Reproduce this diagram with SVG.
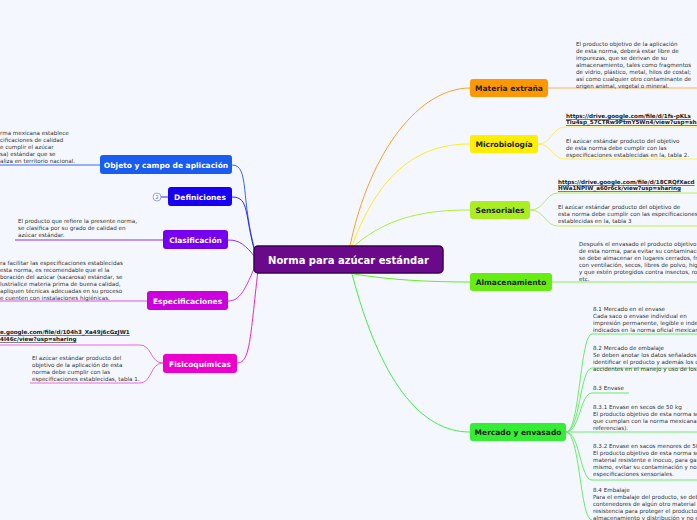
<svg xmlns="http://www.w3.org/2000/svg" width="697" height="520" viewBox="0 0 697 520">
<style>
.n{font-family:"DejaVu Sans",sans-serif;font-size:7.5px;font-weight:bold;fill:#fff;text-anchor:middle}
.t{font-family:"DejaVu Sans",sans-serif;font-size:5.6px;fill:#333}
.l{font-family:"DejaVu Sans",sans-serif;font-size:5.6px;fill:#222;font-weight:bold;text-decoration:underline}
.c{fill:none;stroke-width:1}
</style>
<rect width="697" height="520" fill="#f4f7fd"/>
<g id="connectors">
<path class="c" stroke="#ff9f2a" d="M350,246 C370,150 420,88 470,88"/>
<path class="c" stroke="#ffee22" d="M352,246 C380,170 420,144 470,144"/>
<path class="c" stroke="#b0ee33" d="M354,246 C390,215 430,210 470,210"/>
<path class="c" stroke="#66ee22" d="M354,274 C390,280 430,282 470,282"/>
<path class="c" stroke="#44ee44" d="M352,274 C380,380 420,432 470,432"/>
<path class="c" stroke="#3366ff" d="M256,254 C240,200 250,165 232,165"/>
<path class="c" stroke="#3322ee" d="M256,256 C244,215 250,197 232,197"/>
<path class="c" stroke="#8833ee" d="M256,258 C245,245 240,240 228,240"/>
<path class="c" stroke="#dd33dd" d="M256,264 C245,290 240,301 228,301"/>
<path class="c" stroke="#ee22cc" d="M258,270 C250,340 250,363 237,363"/>
<path class="c" stroke="#3366ff" d="M100,165 L0,165"/>
<path class="c" stroke="#8833ee" d="M163,240 L15,240"/>
<path class="c" stroke="#dd55dd" d="M147,301 L0,301"/>
<path class="c" stroke="#ee66dd" d="M163,363 C150,363 152,345 140,345 L0,345 M163,363 C150,363 152,383 140,383 L30,383"/>
<line x1="155" y1="197" x2="168" y2="197" stroke="#3322ee"/>
<path class="c" stroke="#ffb055" d="M548,88 L697,88"/>
<path class="c" stroke="#ffee55" d="M538,144 C552,144 552,127 565,127 L697,127 M538,144 C552,144 552,159 565,159 L697,159"/>
<path class="c" stroke="#bbee55" d="M530,210 C545,210 545,193 558,193 L697,193 M530,210 C545,210 545,226 558,226 L697,226"/>
<path class="c" stroke="#88ee55" d="M552,282 L697,282"/>
<path class="c" stroke="#66ee66" d="M566,432 C580,432 580,334 592,334 L697,334 M566,432 C580,432 580,368 592,368 L697,368 M566,432 C580,432 580,393 592,393 L629,393 M566,432 C580,432 580,432 592,432 L697,432 M566,432 C580,432 580,480 592,480 L697,480 M566,432 C580,432 580,520 592,520"/>
</g>
<g id="central"><rect x="254" y="246" width="189" height="27" rx="4" fill="#6a0a8a" stroke="#3a0050" stroke-width="1.5"/><text class="n" x="348.5" y="263.5" style="font-size:10px">Norma para azúcar estándar</text></g>
<g id="materia"><rect x="470" y="79" width="78" height="18" rx="3" fill="#ff9800"/><text class="n" x="509" y="90.5" style="fill:#222">Materia extraña</text>
<text class="t" x="576" y="46">El producto objetivo de la aplicación</text><text class="t" x="576" y="53">de esta norma, deberá estar libre de</text><text class="t" x="576" y="60">impurezas, que se derivan de su</text><text class="t" x="576" y="67">almacenamiento, tales como fragmentos</text><text class="t" x="576" y="74">de vidrio, plástico, metal, hilos de costal;</text><text class="t" x="576" y="81">así como cualquier otro contaminante de</text><text class="t" x="576" y="88">origen animal, vegetal o mineral.</text></g>
<g id="micro"><rect x="470" y="135" width="68" height="18" rx="3" fill="#ffee00"/><text class="n" x="504" y="146.5" style="fill:#222">Microbiología</text>
<text class="l" x="566" y="118">https://drive.google.com/file/d/1fs-pKLs</text><text class="l" x="566" y="124">Tlu4sp_57CTRw9PtmY5Wn4/view?usp=sharing</text>
<text class="t" x="566" y="143">El azúcar estándar producto del objetivo</text><text class="t" x="566" y="150">de esta norma debe cumplir con las</text><text class="t" x="566" y="157">especificaciones establecidas en la, tabla 2.</text></g>
<g id="sens"><rect x="470" y="201" width="60" height="18" rx="3" fill="#aaee22"/><text class="n" x="500" y="212.5" style="fill:#222">Sensoriales</text>
<text class="l" x="558" y="184">https://drive.google.com/file/d/18CRQfXacd</text><text class="l" x="558" y="190">HWa1NPIW_a60r6ck/view?usp=sharing</text>
<text class="t" x="558" y="209">El azúcar estándar  producto del objetivo de</text><text class="t" x="558" y="216">esta norma debe cumplir con las especificaciones</text><text class="t" x="558" y="223">establecidas en la, tabla 3</text></g>
<g id="alm"><rect x="470" y="273" width="82" height="18" rx="3" fill="#66ee11"/><text class="n" x="511" y="284.5" style="fill:#222">Almacenamiento</text>
<text class="t" x="579" y="246">Después el envasado el producto objetivo</text><text class="t" x="579" y="253">de esta norma, para evitar su contaminación</text><text class="t" x="579" y="260">se debe almacenar en lugares cerrados, frescos</text><text class="t" x="579" y="267">con ventilación, secos, libres de polvo, higiénicos</text><text class="t" x="579" y="274">y que estén protegidos contra insectos, roedores</text><text class="t" x="579" y="281">etc.</text></g>
<g id="mercado"><rect x="470" y="423" width="96" height="18" rx="3" fill="#33ee33"/><text class="n" x="518" y="434.5" style="fill:#222">Mercado y envasado</text>
<text class="t" x="593" y="311">8.1 Mercado en el envase</text><text class="t" x="593" y="318">Cada saco o envase individual en</text><text class="t" x="593" y="325">impresión permanente, legible e indeleble</text><text class="t" x="593" y="332">indicados en la norma oficial mexicana</text>
<text class="t" x="593" y="350">8.2 Mercado de embalaje</text><text class="t" x="593" y="357">Se deben anotar los datos señalados en</text><text class="t" x="593" y="364">identificar el producto y además los cuidados</text><text class="t" x="593" y="371">accidentes en el manejo y uso de los</text>
<text class="t" x="593" y="390">8.3 Envase</text>
<text class="t" x="593" y="409">8.3.1 Envase en secos de 50 kg</text><text class="t" x="593" y="416">El producto objetivo de esta norma se</text><text class="t" x="593" y="423">que cumplan con la norma mexicana</text><text class="t" x="593" y="430">referencias).</text>
<text class="t" x="593" y="448">8.3.2 Envase en sacos menores de 50</text><text class="t" x="593" y="455">El producto objetivo de esta norma se</text><text class="t" x="593" y="462">material resistente e inocuo, para garantizar</text><text class="t" x="593" y="469">mismo, evitar su contaminación y no</text><text class="t" x="593" y="476">especificaciones sensoriales.</text>
<text class="t" x="593" y="492">8.4 Embalaje</text><text class="t" x="593" y="499">Para el embalaje del producto, se debe</text><text class="t" x="593" y="506">contenedores de algún otro material</text><text class="t" x="593" y="513">resistencia para proteger el producto,</text><text class="t" x="593" y="520">almacenamiento y distribución y no e</text></g>
<g id="objeto"><rect x="100" y="155" width="132" height="19" rx="3" fill="#1a5cf0"/><text class="n" x="166" y="167.5">Objeto y campo de aplicación</text>
<text class="t" x="0" y="135">rma mexicana establece</text><text class="t" x="0" y="142">cificaciones de calidad</text><text class="t" x="0" y="149">e cumplir el azúcar</text><text class="t" x="0" y="156">sa) estándar que se</text><text class="t" x="0" y="163">aliza en territorio nacional.</text></g>
<g id="defin"><rect x="168" y="187" width="64" height="19" rx="3" fill="#1a00f0"/><text class="n" x="200" y="199.5">Definiciones</text>
<circle cx="157" cy="197" r="4" fill="#fff" stroke="#8888ee" stroke-width="0.8"/><text x="157" y="199" style="font-family:'DejaVu Sans',sans-serif;font-size:5px;fill:#66c;text-anchor:middle">2</text></g>
<g id="clasif"><rect x="163" y="230" width="65" height="19" rx="3" fill="#7700ee"/><text class="n" x="195.5" y="242.5">Clasificación</text>
<text class="t" x="18" y="223">El producto que refiere la presente norma,</text><text class="t" x="18" y="230">se clasifica por su grado de calidad en</text><text class="t" x="18" y="237">azúcar estándar.</text></g>
<g id="espec"><rect x="147" y="291" width="81" height="19" rx="3" fill="#cc00dd"/><text class="n" x="187.5" y="303.5">Especificaciones</text>
<text class="t" x="0" y="265">ra facilitar las especificaciones establecidas</text><text class="t" x="0" y="272">esta norma, es recomendable que el la</text><text class="t" x="0" y="279">boración del azúcar (sacarosa) estándar, se</text><text class="t" x="0" y="286">lustrialice materia prima de buena calidad,</text><text class="t" x="0" y="293">apliquen técnicas adecuadas en su proceso</text><text class="t" x="0" y="300">e cuenten con instalaciones higiénicas.</text></g>
<g id="fisico"><rect x="163" y="354" width="74" height="19" rx="3" fill="#ee00cc"/><text class="n" x="200" y="366.5">Fisicoquímicas</text>
<text class="l" x="0" y="334">e.google.com/file/d/104h3_Xa49j6cGzJW1</text><text class="l" x="0" y="341">4l46c/view?usp=sharing</text>
<text class="t" x="32" y="360">El azúcar estándar producto del</text><text class="t" x="32" y="367">objetivo de la aplicación de esta</text><text class="t" x="32" y="374">norma debe cumplir con las</text><text class="t" x="32" y="381">especificaciones establecidas, tabla 1.</text></g>
</svg>
